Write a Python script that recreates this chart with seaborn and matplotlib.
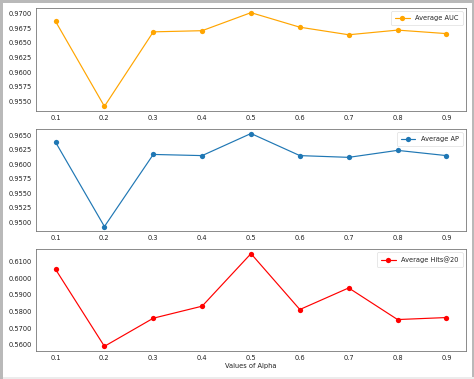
import matplotlib
matplotlib.use("Agg")
import matplotlib.pyplot as plt
import seaborn as sns
from matplotlib.ticker import FormatStrFormatter, MultipleLocator
from matplotlib.patches import Rectangle

alpha = [0.1, 0.2, 0.3, 0.4, 0.5, 0.6, 0.7, 0.8, 0.9]
auc = [0.9687, 0.9541, 0.9669, 0.9671, 0.9702, 0.9677, 0.9664, 0.9672, 0.9666]
ap = [0.9638, 0.9493, 0.9617, 0.9615, 0.9653, 0.9615, 0.9612, 0.9624, 0.9615]
hits = [0.6052, 0.5592, 0.5760, 0.5832, 0.6146, 0.5812, 0.5941, 0.5752, 0.5764]
labels = ["Average AUC", "Average AP", "Average Hits@20"]
colors = ["orange", "#1f77b4", "red"]
steps = [0.0025, 0.0025, 0.01]

sns.set_style("white")
plt.rcParams["font.family"] = ["DejaVu Sans"]
fs = 4.8

fig = plt.figure(figsize=(4.74, 3.79), dpi=100)
fig.patch.set_facecolor("#b9b9b9")
fig.patches.append(Rectangle((3 / 474, 2 / 379), 469 / 474, 374 / 379,
                             transform=fig.transFigure, facecolor="white",
                             edgecolor="none", zorder=-1))
fig.patches.append(Rectangle((3 / 474, 0), 471 / 474, 2 / 379,
                             transform=fig.transFigure, facecolor="#ececec",
                             edgecolor="none", zorder=-1))

positions = [
    (0.076, 0.707, 0.907, 0.272),
    (0.076, 0.390, 0.907, 0.270),
    (0.076, 0.074, 0.907, 0.269),
]
series = [auc, ap, hits]

for pos, ys, lab, col, st in zip(positions, series, labels, colors, steps):
    ax = fig.add_axes(pos)
    ax.set_facecolor("white")
    sns.lineplot(x=alpha, y=ys, marker="o", color=col, label=lab, ax=ax,
                 linewidth=0.85, markersize=3.8, markeredgecolor=col,
                 markeredgewidth=0)
    ax.set_xticks(alpha)
    ax.set_xticklabels([f"{a:.1f}" for a in alpha])
    ax.yaxis.set_major_locator(MultipleLocator(st))
    ax.yaxis.set_major_formatter(FormatStrFormatter("%.4f"))
    ax.tick_params(labelsize=fs, length=1.6, width=0.4, color="#444444",
                   pad=1.5, labelcolor="#222222")
    for sp in ax.spines.values():
        sp.set_color("#777777")
        sp.set_linewidth(0.6)
    ax.set_xlabel("")
    ax.set_ylabel("")
    leg = ax.legend(loc="upper right", fontsize=fs, frameon=True,
                    handlelength=2.2, borderpad=0.6, framealpha=0.8)
    leg.get_frame().set_linewidth(0.4)
    last = ax

last.set_xlabel("Values of Alpha", fontsize=fs, labelpad=1.5,
                color="#222222")

fig.savefig("out.png", dpi=100, facecolor=fig.get_facecolor())
